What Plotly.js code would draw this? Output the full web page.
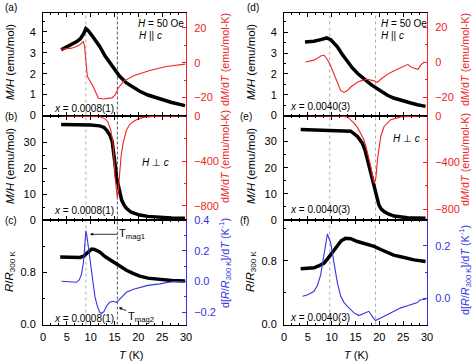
<!DOCTYPE html>
<html><head><meta charset="utf-8">
<script src="https://cdn.plot.ly/plotly-3.0.1.min.js"></script>
<style>html,body{margin:0;padding:0;background:#fff}#plot{width:474px;height:362px}</style>
</head><body><div id="plot"></div>
<script>
// ---- data ----
// (a) x = 0.0008(1), H || c
const aT_MH = [3.8, 5, 6, 7, 7.8, 8.5, 9.0, 9.5, 10.5, 11.9, 13, 14.7, 16, 17.5, 19, 20.3, 22, 24.5, 27, 29.8];
const aMH   = [3.14, 3.27, 3.38, 3.52, 3.66, 3.9, 4.15, 4.05, 3.75, 3.3, 2.85, 2.27, 1.9, 1.56, 1.32, 1.16, 0.98, 0.79, 0.62, 0.47];
const aT_d  = [3.8, 5, 6, 7, 7.75, 8.45, 8.7, 9.0, 9.3, 10.5, 11.6, 12.5, 13.5, 14.5, 15.1, 15.8, 16.9, 19, 22.4, 25.9, 29.8];
const aD    = [7.8, 8, 8.4, 9.4, 10.3, 12.2, 10, 1, -7.8, -13.5, -20.2, -20.8, -20.5, -20.2, -18.6, -14.5, -10.7, -7.4, -4.4, -2.1, -0.8];
// (b) x = 0.0008(1), H perp c
const bT_MH = [3.8, 6, 8, 10, 11.9, 12.8, 13.4, 14.05, 14.5, 14.8, 15.1, 15.4, 15.8, 16.2, 16.5, 17, 17.5, 18.5, 20.3, 22, 24.5, 27, 29.8];
const bMH   = [36.9, 36.9, 36.8, 36.7, 36.4, 35.8, 34.6, 32.7, 30.5, 27, 21.8, 16.7, 12.8, 9.5, 7.7, 5.8, 4.5, 3.0, 1.9, 1.4, 1.0, 0.8, 0.7];
const bT_d  = [3.8, 6, 8, 10, 12, 13, 13.6, 14.2, 14.7, 15.1, 15.4, 15.6, 15.8, 16.1, 16.4, 16.8, 17.5, 18.2, 18.9, 20, 21, 23, 26, 29.8];
const bD    = [0, 0, 0, -2, -6, -25, -50, -124, -243, -539, -702, -725, -658, -480, -350, -243, -124, -75, -50, -25, -12, -4, -1, 0];
// (c) x = 0.0008(1), resistance
const cT_R  = [3.6, 5, 6.5, 7.75, 8.5, 9.2, 9.7, 10.2, 10.8, 11.9, 13, 14.7, 16, 17.5, 19, 20.3, 22, 24.5, 27, 29.8];
const cR    = [1.035, 1.03, 1.028, 1.026, 1.045, 1.087, 1.13, 1.154, 1.15, 1.11, 1.04, 0.96, 0.89, 0.83, 0.78, 0.74, 0.71, 0.69, 0.675, 0.666];
const cT_d  = [3.9, 5, 6, 7.05, 7.6, 8.1, 8.5, 8.8, 9.0, 9.2, 9.5, 9.85, 10.2, 10.6, 10.9, 11.4, 11.9, 12.3, 12.8, 13.4, 14, 14.7, 15.4, 16.1, 16.8, 17.5, 19, 20.3, 22, 24.5, 27.3, 29.8];
const cD    = [0.002, 0.0, -0.003, -0.005, 0.01, 0.05, 0.13, 0.24, 0.33, 0.3, 0.225, 0.13, 0.05, -0.03, -0.1, -0.16, -0.2, -0.208, -0.195, -0.157, -0.135, -0.129, -0.136, -0.114, -0.09, -0.07, -0.05, -0.037, -0.025, -0.015, 0.0, 0.0];
// (d) x = 0.0040(3), H || c
const dT_MH = [4.4, 5.5, 6.3, 7.7, 8.95, 9.8, 10.5, 11.2, 12.2, 13.3, 14.3, 15.4, 16.4, 17.5, 18.5, 19.6, 20.6, 21.7, 23, 24.5, 25.5, 26.6, 28, 29.7];
const dMH   = [3.54, 3.55, 3.57, 3.65, 3.73, 3.65, 3.5, 3.3, 2.95, 2.59, 2.3, 2.03, 1.82, 1.63, 1.45, 1.27, 1.11, 0.97, 0.84, 0.73, 0.66, 0.6, 0.52, 0.44];
const dT_d  = [4.5, 5.5, 6.3, 7.0, 7.7, 8.4, 9.1, 9.8, 10.5, 11.2, 11.9, 12.6, 13.3, 14.0, 14.7, 15.4, 16.1, 17.5, 18.9, 19.6, 20.3, 21.0, 21.7, 22.8, 23.8, 25.2, 26.0, 26.3, 27.0, 28.1, 28.8, 29.5];
const dD    = [0.2, 0.7, 1.3, 2.3, 3.6, 4.2, 1.7, -2.1, -6.8, -12.4, -16.1, -17.1, -16, -14, -12.4, -11.3, -10.5, -9.6, -10.5, -11.4, -9.6, -8, -6.8, -5.2, -3.9, -2.1, -1.1, -2, -3, -3.9, -1.1, 0.2];
// (e) x = 0.0040(3), H perp c
const eT_MH = [3.5, 6, 9, 12, 14.0, 15.4, 16.4, 17.0, 17.5, 18.2, 18.7, 19.2, 19.9, 20.4, 21, 22, 23.1, 25.9, 29.7];
const eMH   = [34.6, 34.5, 34.4, 34.2, 34.0, 32.0, 29.5, 26.8, 23.1, 18, 14.7, 10.3, 5.8, 4.2, 3.2, 2.2, 1.5, 0.9, 0.7];
const eT_d  = [3.9, 7, 10, 12, 13.3, 14.7, 15.4, 16.1, 16.7, 17.2, 17.7, 18.2, 18.5, 18.8, 18.95, 19.1, 19.3, 19.6, 19.9, 20.3, 21, 22.4, 24.5, 27, 29.7];
const eD    = [0, 0, 0, -3, -10, -63, -100, -149, -200, -264, -340, -436, -500, -560, -579, -565, -522, -378, -270, -178, -92, -34, -10, -3, 0];
// (f) x = 0.0040(3), resistance
const fT_R  = [3.5, 5, 6.3, 7.5, 8.4, 9.1, 9.8, 10.5, 11.2, 12, 12.9, 14, 15.4, 17, 18.9, 20.3, 21.7, 23, 24.5, 26, 27.3, 29.7];
const fR    = [0.70, 0.705, 0.71, 0.74, 0.77, 0.82, 0.875, 0.94, 1.0, 1.05, 1.08, 1.075, 1.04, 1.01, 0.98, 0.94, 0.90, 0.87, 0.85, 0.83, 0.81, 0.79];
const fT_d  = [3.9, 5, 6.3, 7.0, 7.7, 8.4, 9.1, 9.8, 10.5, 11.2, 11.9, 12.6, 13.3, 14.0, 14.7, 15.7, 16.8, 17.8, 18.5, 19.2, 20.3, 21.4, 22.4, 23.5, 24.5, 25.9, 27.3, 28.0, 28.5, 29.7];
const fD    = [0.009, 0.015, 0.028, 0.05, 0.09, 0.17, 0.245, 0.21, 0.135, 0.06, 0.009, -0.015, -0.029, -0.042, -0.054, -0.064, -0.057, -0.048, -0.067, -0.083, -0.073, -0.063, -0.054, -0.045, -0.035, -0.027, -0.019, -0.015, -0.005, -0.002];
// tick labels shown on the left axes
const ticksMH_par  = [0, 1, 2, 3, 4];
const ticksMH_perp = [0, 10, 20, 30];
const ticksR       = [0, 0.8];
// transition markers
const leftTmag  = [9.0, 15.6];
const rightTmag = [9.6, 19.2];
const tmag1 = {T: 9.85, y: 0.308};
const tmag2 = {T: 15.9, y: -0.17};

// ---- layout helpers ----
const W = 474, H = 362;
const px = v => v / W, py = v => 1 - v / H;
const RED = '#ee2424', BLUE = '#3434e0';
const FONT = 'Liberation Sans, Arial, sans-serif';
const colX = [[43, 186], [284, 427]];
const rowY = [[13, 115.5], [115.5, 220], [220, 324.5]];

const layout = {
  width: W, height: H, margin: {l: 0, r: 0, t: 0, b: 0, pad: 0},
  paper_bgcolor: '#fff', plot_bgcolor: '#fff', showlegend: false,
  font: {family: FONT, size: 11, color: '#000'},
  shapes: [], annotations: []
};

function xAxis(col, row, n) {
  return {
    domain: [px(colX[col][0]), px(colX[col][1])], range: [0, 30], tick0: 0, dtick: 5,
    ticks: 'inside', ticklen: 4, tickwidth: 1, tickcolor: '#000',
    showline: true, linecolor: '#000', linewidth: 1, mirror: 'ticks',
    showgrid: false, zeroline: false, showticklabels: row === 2, ticklabelstandoff: 2,
    tickfont: {size: 11}, anchor: 'y' + (2 * n - 1),
    minor: {dtick: 5 / 3, ticks: 'inside', ticklen: 2, tickcolor: '#000', showgrid: false}
  };
}
function yLeft(row, n, range, tickvals, mdt, fmt) {
  return {
    domain: [py(rowY[row][1]), py(rowY[row][0])], range, tickmode: 'array', tickvals,
    ticktext: tickvals.map(v => fmt ? v.toFixed(1) : String(v)),
    ticks: 'inside', ticklen: 4, tickcolor: '#000', showline: true, linecolor: '#000', linewidth: 1,
    showgrid: false, zeroline: false, anchor: 'x' + n, tickfont: {size: 11}, ticklabelstandoff: 4,
    minor: {dtick: mdt, tick0: 0, ticks: 'inside', ticklen: 2, tickcolor: '#000', showgrid: false}
  };
}
function yRight(n, range, dtick, mdt, color, fmt) {
  return {
    overlaying: 'y' + (2 * n - 1), side: 'right', anchor: 'x' + n, range, dtick, tick0: 0,
    ticks: 'inside', ticklen: 4, tickcolor: color, showline: true, linecolor: color, linewidth: 1,
    showgrid: false, zeroline: false, tickfont: {size: 11, color}, ticklabelstandoff: 5,
    tickformat: fmt || '',
    minor: {dtick: mdt, ticks: 'inside', ticklen: 2, tickcolor: color, showgrid: false}
  };
}
const key = (p, n) => p + (n === 1 ? 'axis' : 'axis' + n);

const panels = [
  {n: 1, col: 0, row: 0, yl: [[0, 4.9], ticksMH_par, 0.5], yr: [[-30.3, 28.6], 20, 10, RED]},
  {n: 2, col: 0, row: 1, yl: [[0, 40.4], ticksMH_perp, 5], yr: [[-925, 5], 400, 200, RED]},
  {n: 3, col: 0, row: 2, yl: [[0, 1.6], ticksR, 0.4, true], yr: [[-0.28, 0.401], 0.2, 0.1, BLUE, '.1f']},
  {n: 4, col: 1, row: 0, yl: [[0, 4.93], ticksMH_par, 0.5], yr: [[-30.2, 28.1], 20, 10, RED]},
  {n: 5, col: 1, row: 1, yl: [[0, 40], ticksMH_perp, 5], yr: [[-894, 2], 400, 200, RED]},
  {n: 6, col: 1, row: 2, yl: [[0, 1.31], ticksR, 0.4, true], yr: [[-0.098, 0.298], 0.2, 0.1, BLUE, '.1f']}
];
panels.forEach(p => {
  layout[key('x', p.n)] = xAxis(p.col, p.row, p.n);
  layout[key('y', 2 * p.n - 1)] = yLeft(p.row, p.n, p.yl[0], p.yl[1], p.yl[2], p.yl[3]);
  layout[key('y', 2 * p.n)] = yRight(p.n, p.yr[0], p.yr[1], p.yr[2], p.yr[3], p.yr[4]);
});

// ---- traces ----
const traces = [];
function blk(x, y, n) { traces.push({x, y, mode: 'lines', line: {color: '#000', width: 3.5}, xaxis: 'x' + n, yaxis: 'y' + (2 * n - 1)}); }
function col(x, y, n, c) { traces.push({x, y, mode: 'lines', line: {color: c, width: 1.1}, xaxis: 'x' + n, yaxis: 'y' + (2 * n)}); }
col(aT_d, aD, 1, RED); blk(aT_MH, aMH, 1);
col(bT_d, bD, 2, RED); blk(bT_MH, bMH, 2);
col(cT_d, cD, 3, BLUE); blk(cT_R, cR, 3);
col(dT_d, dD, 4, RED); blk(dT_MH, dMH, 4);
col(eT_d, eD, 5, RED); blk(eT_MH, eMH, 5);
col(fT_d, fD, 6, BLUE); blk(fT_R, fR, 6);

// ---- vertical transition lines ----
const ytop = py(13), ybot = py(324.5);
layout.shapes.push({type: 'line', xref: 'x', yref: 'paper', x0: leftTmag[0], x1: leftTmag[0], y0: ybot, y1: ytop, line: {color: '#aaaaaa', width: 1, dash: 'dot'}, layer: 'below'});
layout.shapes.push({type: 'line', xref: 'x', yref: 'paper', x0: leftTmag[1], x1: leftTmag[1], y0: ybot, y1: ytop, line: {color: '#555555', width: 1, dash: '3px,2px'}, layer: 'below'});
rightTmag.forEach(t => layout.shapes.push({type: 'line', xref: 'x4', yref: 'paper', x0: t, x1: t, y0: ybot, y1: ytop, line: {color: '#aaaaaa', width: 1, dash: 'dot'}, layer: 'below'}));

// ---- text ----
function txt(text, x, y, opts) {
  layout.annotations.push(Object.assign({text, x: px(x), y: py(y), xref: 'paper', yref: 'paper', showarrow: false, xanchor: 'center', yanchor: 'middle', font: {size: 11, color: '#000'}}, opts || {}));
}
const MH = '<i>M/H</i> (emu/mol)';
const DM = 'd<i>M</i>/d<i>T</i> (emu/mol-K)';
const DR = 'd[<i>R</i>/<i>R</i><sub>300 K</sub>]/d<i>T</i> (K<sup>-1</sup>)';
const RR = '<i>R</i>/<i>R</i><sub>300 K</sub>';
[10, 251].forEach(x => {
  txt(MH, x, 62, {textangle: -90, font: {size: 11.5, color: '#000'}});
  txt(MH, x, 166, {textangle: -90, font: {size: 11.5, color: '#000'}});
  txt(RR, x, 272, {textangle: -90, font: {size: 11.5, color: '#000'}});
});
const rf = c => ({textangle: -90, font: {size: 10.8, color: c}});
txt(DM, 225, 60, rf(RED));
txt(DM, 225, 157, rf(RED));
txt(DR, 225, 263, rf(BLUE));
txt(DM, 465, 60, rf(RED));
txt(DM, 465, 160, rf(RED));
txt(DR, 465, 270, rf(BLUE));
txt('<i>T</i> (K)', 131, 355);
txt('<i>T</i> (K)', 356, 355);
const sm = {xanchor: 'left', font: {size: 10, color: '#000'}};
txt('<i>H</i> = 50 Oe', 136, 23, sm);
txt('<i>H</i> || <i>c</i>', 137, 35, sm);
txt('<i>H</i> ⊥ <i>c</i>', 140, 162, sm);
txt('<i>H</i> = 50 Oe', 379, 23, sm);
txt('<i>H</i> || <i>c</i>', 379, 35, sm);
txt('<i>H</i> ⊥ <i>c</i>', 391, 138, sm);
[108, 210, 318].forEach(y => txt('<i>x</i> = 0.0008(1)', 52, y, sm));
[107, 209, 317].forEach(y => txt('<i>x</i> = 0.0040(3)', 288, y, sm));
const lab = {xanchor: 'left', font: {size: 10, color: '#000'}};
txt('(a)', 3, 8, lab); txt('(b)', 3, 116, lab); txt('(c)', 3, 220, lab);
txt('(d)', 245, 7, lab); txt('(e)', 238, 116, lab); txt('(f)', 238, 220, lab);

// arrows for T_mag1 / T_mag2
layout.annotations.push({text: 'T<sub>mag1</sub>', x: tmag1.T, y: tmag1.y, xref: 'x3', yref: 'y6', showarrow: true, ax: 42, ay: 0, arrowhead: 2, arrowsize: 0.8, arrowwidth: 0.8, arrowcolor: '#000', font: {size: 11}});
layout.annotations.push({text: 'T<sub>mag2</sub>', x: tmag2.T, y: tmag2.y, xref: 'x3', yref: 'y6', showarrow: true, ax: 22, ay: 9, arrowhead: 2, arrowsize: 0.8, arrowwidth: 0.8, arrowcolor: '#000', font: {size: 11}});

Plotly.newPlot('plot', traces, layout, {displayModeBar: false, staticPlot: true});
</script></body></html>
